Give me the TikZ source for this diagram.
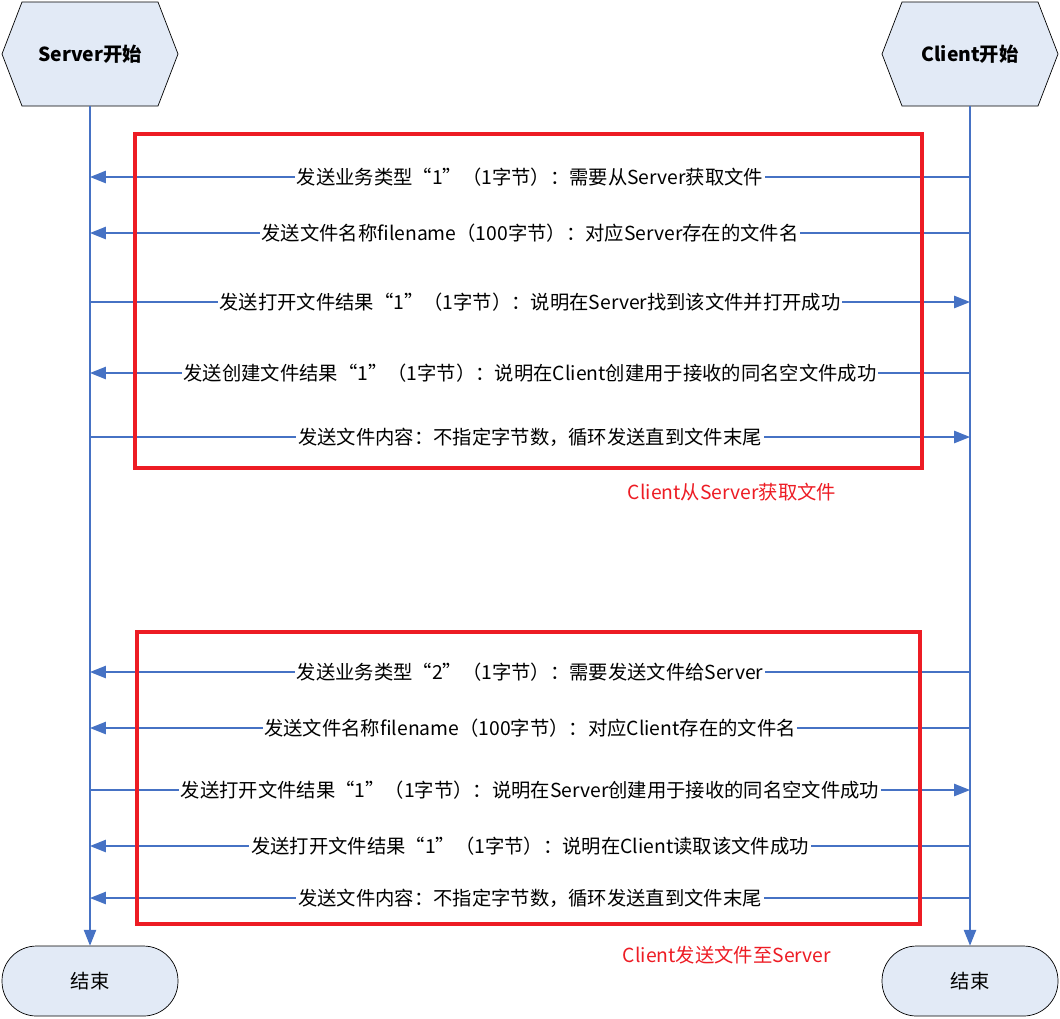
\documentclass[tikz,border=0pt]{standalone}
\usepackage{fontspec}
\newfontfamily\cjk{Noto Sans CJK SC}
\usetikzlibrary{arrows.meta}
\definecolor{lineblue}{RGB}{70,114,196}
\definecolor{fillblue}{RGB}{226,234,246}
\definecolor{boxred}{RGB}{237,28,36}
\begin{document}
\begin{tikzpicture}[
        x=0.02cm, y=-0.02cm,
        font=\cjk\fontsize{11}{13}\selectfont,
        msg/.style={draw=lineblue, thick, -{Triangle[length=9pt,width=7pt]}},
        lbl/.style={fill=white, inner sep=1pt},
        endnode/.style={draw=black, fill=fillblue, rectangle, rounded corners=0.69cm, minimum width=3.52cm, minimum height=1.4cm}]

        \useasboundingbox (0,0) rectangle (1060,1018);

        % NODES
        % start hexagons
        \draw[fill=fillblue] (2,54) -- (22,2) -- (158,2) -- (178,54) -- (158,106) -- (22,106) -- cycle;
        \draw[fill=fillblue] (882,54) -- (902,2) -- (1038,2) -- (1058,54) -- (1038,106) -- (902,106) -- cycle;
        \node (server) at (90,54) {\bfseries Server开始};
        \node (client) at (970,54) {\bfseries Client开始};
        \coordinate (serverTop) at (90,106);
        \coordinate (clientTop) at (970,106);

        % end nodes
        \node[endnode] (serverEnd) at (90,981) {结束};
        \node[endnode] (clientEnd) at (970,981) {结束};

        % LIFELINES
        \draw[msg] (serverTop) -- (serverEnd.north);
        \draw[msg] (clientTop) -- (clientEnd.north);

        % MESSAGES
        \foreach \row/\dir/\txt in {
                177/L/发送业务类型“1”（1字节）：需要从Server获取文件,
                233/L/发送文件名称filename（100字节）：对应Server存在的文件名,
                302/R/发送打开文件结果“1”（1字节）：说明在Server找到该文件并打开成功,
                373/L/发送创建文件结果“1”（1字节）：说明在Client创建用于接收的同名空文件成功,
                437/R/发送文件内容：不指定字节数，循环发送直到文件末尾,
                672/L/发送业务类型“2”（1字节）：需要发送文件给Server,
                728/L/发送文件名称filename（100字节）：对应Client存在的文件名,
                790/R/发送打开文件结果“1”（1字节）：说明在Server创建用于接收的同名空文件成功,
                846/L/发送打开文件结果“1”（1字节）：说明在Client读取该文件成功,
                898/L/发送文件内容：不指定字节数，循环发送直到文件末尾}{
            \coordinate (s\row) at (90,\row);
            \coordinate (c\row) at (970,\row);
            \if\dir L
                \draw[msg] (c\row) -- (s\row) node[lbl, midway] {\txt};
            \else
                \draw[msg] (s\row) -- (c\row) node[lbl, midway] {\txt};
            \fi
        }

        % GROUPS
        \draw[boxred, line width=2.5pt] (135,134) rectangle (922,468);
        \draw[boxred, line width=2.5pt] (137,632) rectangle (920,924);
        \node[text=boxred] (getCap) at (732,492) {Client从Server获取文件};
        \node[text=boxred] (putCap) at (727,955) {Client发送文件至Server};
\end{tikzpicture}
\end{document}
